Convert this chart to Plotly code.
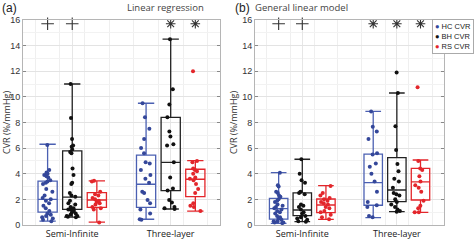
import plotly.graph_objects as go

CATS = ["Semi-Infinite", "Three-layer"]
SERIES = ["HC CVR", "BH CVR", "RS CVR"]
COLORS = ["#34479a", "#111111", "#e3262b"]
LINE_COLORS = ["#4b60b2", "#222222", "#e3262b"]

# ---------- (a) Linear regression: sample points ----------
lr_hc_semi = [6.25, 4.3, 4.1, 4.0, 3.9, 3.8, 3.7, 3.5, 3.4, 3.3, 3.2, 2.8, 2.6, 2.3, 2.1, 2.0,
              1.9, 1.7, 1.5, 1.3, 1.1, 0.9, 0.8, 0.7, 0.6, 0.5, 0.4, 0.3]
lr_hc_three = [9.5, 8.4, 7.5, 6.7, 6.0, 5.6, 4.9, 4.8, 4.3, 3.9, 3.6, 3.3, 2.6, 2.5, 1.95, 1.7,
               1.2, 0.9, 0.45, 0.4]
lr_bh_semi = [11.0, 8.35, 6.7, 6.2, 6.1, 5.9, 5.7, 5.6, 4.4, 3.9, 3.3, 3.2, 2.5, 2.3, 2.2, 1.9,
              1.7, 1.6, 1.4, 1.3, 1.2, 1.2, 1.1, 1.0, 0.9, 0.8, 0.7, 0.7, 0.65, 0.6]
lr_bh_three = [14.5, 10.6, 9.4, 8.4, 7.3, 6.9, 6.3, 6.2, 4.9, 3.7, 2.85, 2.7, 1.95, 1.75, 1.4,
               1.3, 1.25]
lr_rs_semi = [3.45, 3.4, 2.6, 2.4, 2.3, 2.1, 2.0, 1.9, 1.8, 1.7, 1.6, 1.4, 1.3, 1.2, 0.2]
lr_rs_three = [12.0, 5.0, 4.9, 4.4, 4.3, 4.2, 4.0, 3.7, 3.6, 3.5, 3.2, 2.8, 2.5, 1.7, 1.5, 1.4, 1.1]

# box statistics (per category: Semi-Infinite, Three-layer)
lr_q1 = {"HC CVR": [1.0, 1.38], "BH CVR": [1.22, 2.68], "RS CVR": [1.38, 2.21]}
lr_med = {"HC CVR": [2.0, 3.18], "BH CVR": [2.17, 4.89], "RS CVR": [1.95, 3.57]}
lr_q3 = {"HC CVR": [3.43, 5.45], "BH CVR": [5.78, 8.4], "RS CVR": [2.52, 4.35]}
lr_lo = {"HC CVR": [0.3, 0.45], "BH CVR": [0.62, 1.25], "RS CVR": [0.22, 1.09]}
lr_hi = {"HC CVR": [6.3, 9.5], "BH CVR": [11.0, 14.5], "RS CVR": [3.45, 5.02]}

# ---------- (b) General linear model: sample points ----------
glm_hc_semi = [4.08, 3.1, 3.0, 2.6, 2.5, 2.3, 2.2, 2.0, 1.9, 1.8, 1.6, 1.5, 1.4, 1.3, 1.2, 1.1,
               1.0, 0.9, 0.7, 0.6, 0.5, 0.4, 0.3, 0.3, 0.2, 0.2, 0.15]
glm_hc_three = [8.86, 7.67, 7.3, 6.7, 5.6, 5.5, 4.8, 4.55, 4.0, 3.4, 2.6, 1.8, 1.55, 1.4, 0.7, 0.6]
glm_bh_semi = [5.13, 4.0, 3.5, 3.3, 2.6, 2.5, 2.4, 1.6, 1.5, 1.4, 1.2, 1.0, 0.9, 0.7, 0.6, 0.5,
               0.4, 0.3, 0.26]
glm_bh_three = [11.9, 10.3, 7.7, 5.85, 4.75, 4.2, 3.6, 3.4, 2.9, 2.5, 2.4, 2.3, 2.0, 1.8, 1.6,
                1.4, 1.2, 1.1, 1.04]
glm_rs_semi = [3.05, 2.5, 2.3, 2.1, 2.0, 1.9, 1.8, 1.7, 1.6, 1.4, 1.3, 1.1, 1.0, 0.8, 0.6, 0.44]
glm_rs_three = [10.75, 5.0, 4.4, 4.3, 3.8, 3.4, 3.1, 2.9, 2.6, 1.9, 1.5, 1.3, 1.0, 1.0]

glm_q1 = {"HC CVR": [0.46, 1.54], "BH CVR": [0.73, 1.82], "RS CVR": [0.96, 1.95]}
glm_med = {"HC CVR": [1.28, 3.3], "BH CVR": [1.17, 2.73], "RS CVR": [1.56, 3.36]}
glm_q3 = {"HC CVR": [2.08, 5.53], "BH CVR": [2.5, 5.26], "RS CVR": [2.03, 4.42]}
glm_lo = {"HC CVR": [0.13, 0.57], "BH CVR": [0.26, 1.04], "RS CVR": [0.44, 0.99]}
glm_hi = {"HC CVR": [4.08, 8.86], "BH CVR": [5.13, 10.3], "RS CVR": [3.07, 5.07]}

# significance marks: (category, series) pairs
lr_plus = [("Semi-Infinite", "HC CVR"), ("Semi-Infinite", "BH CVR")]
lr_star = [("Three-layer", "BH CVR"), ("Three-layer", "RS CVR")]
glm_plus = [("Semi-Infinite", "HC CVR"), ("Semi-Infinite", "BH CVR")]
glm_star = [("Three-layer", "HC CVR"), ("Three-layer", "BH CVR"), ("Three-layer", "RS CVR")]
MARK_LEVEL = 15.7

Y_TICKS = [0, 2, 4, 6, 8, 10, 12, 14, 16]

panels = [
    dict(points={"HC CVR": [lr_hc_semi, lr_hc_three], "BH CVR": [lr_bh_semi, lr_bh_three],
                 "RS CVR": [lr_rs_semi, lr_rs_three]},
         q1=lr_q1, med=lr_med, q3=lr_q3, lo=lr_lo, hi=lr_hi, plus=lr_plus, star=lr_star),
    dict(points={"HC CVR": [glm_hc_semi, glm_hc_three], "BH CVR": [glm_bh_semi, glm_bh_three],
                 "RS CVR": [glm_rs_semi, glm_rs_three]},
         q1=glm_q1, med=glm_med, q3=glm_q3, lo=glm_lo, hi=glm_hi, plus=glm_plus, star=glm_star),
]


def pos(ci, si):
    # boxes at 1,2,3 (first category) and 5,6,7 (second category)
    return 1 + 4 * ci + si


fig = go.Figure()
for p_i, P in enumerate(panels):
    xa = "x" if p_i == 0 else "x2"
    ya = "y" if p_i == 0 else "y2"
    for si, s in enumerate(SERIES):
        fig.add_trace(go.Box(
            x=[pos(ci, si) for ci in range(len(CATS))],
            q1=P["q1"][s], median=P["med"][s], q3=P["q3"][s],
            lowerfence=P["lo"][s], upperfence=P["hi"][s],
            boxpoints=False, width=0.78, whiskerwidth=0.85,
            line=dict(color=LINE_COLORS[si], width=1.3),
            fillcolor="rgba(0,0,0,0)", showlegend=False, hoverinfo="skip",
            xaxis=xa, yaxis=ya))
    for si, s in enumerate(SERIES):
        xs, ys = [], []
        for ci in range(len(CATS)):
            vals = P["points"][s][ci]
            xs += [pos(ci, si)] * len(vals)
            ys += vals
        fig.add_trace(go.Box(
            x=xs, y=ys, boxpoints="all", jitter=0.75, pointpos=0, width=0.78,
            marker=dict(size=4, color=COLORS[si]),
            line=dict(width=0, color="rgba(0,0,0,0)"), fillcolor="rgba(0,0,0,0)",
            showlegend=False, xaxis=xa, yaxis=ya))
    for key, sym, sz in (("plus", "cross-thin-open", 9), ("star", "asterisk-open", 8)):
        mx = [pos(CATS.index(c), SERIES.index(s)) for c, s in P[key]]
        fig.add_trace(go.Scatter(
            x=mx, y=[MARK_LEVEL] * len(mx), mode="markers", cliponaxis=False,
            marker=dict(symbol=sym, size=sz, color="#333333",
                        line=dict(color="#333333", width=1.1)),
            showlegend=False, hoverinfo="skip", xaxis=xa, yaxis=ya))

axis_common = dict(showline=True, linecolor="#b5b5b5", linewidth=1, mirror="ticks",
                   zeroline=False)
xcommon = dict(axis_common, range=[0, 8], tickmode="array",
               tickvals=[pos(ci, 1) for ci in range(len(CATS))], ticktext=CATS,
               ticks="", showgrid=True, gridcolor="#e6e6e6",
               tickfont=dict(family="Open Sans", size=9, color="#222222"),
               minor=dict(tick0=0.5, dtick=1, showgrid=True, gridcolor="#efefef"))
ycommon = dict(axis_common, range=[0, 16], tickvals=Y_TICKS, ticks="inside", ticklen=3,
               tickcolor="#888888", showgrid=True, gridcolor="#e3e3e3",
               tickfont=dict(family="Liberation Sans", size=9, color="#333333"),
               minor=dict(dtick=1, showgrid=True, gridcolor="#f2f2f2"),
               title=dict(text="CVR (%/mmHg)", standoff=3,
                          font=dict(family="Open Sans", size=9, color="#333333")))

legend_text = "<br>".join(
    f"<span style='color:{COLORS[si]}'>●</span> {s}" for si, s in enumerate(SERIES))

fig.update_layout(
    template="none",
    width=474, height=240, margin=dict(l=0, r=0, t=0, b=0),
    paper_bgcolor="white", plot_bgcolor="white",
    xaxis=dict(xcommon, domain=[0.0485, 0.464], anchor="y"),
    yaxis=dict(ycommon, domain=[0.0625, 0.917], anchor="x"),
    xaxis2=dict(xcommon, domain=[0.538, 0.937], anchor="y2"),
    yaxis2=dict(ycommon, domain=[0.0625, 0.917], anchor="x2"),
    showlegend=False,
    annotations=[
        dict(text="Linear regression", x=0.264, y=1 - 8 / 240, xref="paper", yref="paper",
             yanchor="middle", showarrow=False,
             font=dict(family="Open Sans", size=9.5, color="#444444")),
        dict(text="General linear model", x=0.738, y=1 - 8 / 240, xref="paper", yref="paper",
             yanchor="middle", showarrow=False,
             font=dict(family="Open Sans", size=9.5, color="#444444")),
        dict(text="(a)", x=0.0, y=1 - 8 / 240, xref="paper", yref="paper", xanchor="left",
             yanchor="middle", showarrow=False,
             font=dict(family="Liberation Sans", size=12, color="#222222")),
        dict(text="(b)", x=0.492, y=1 - 8 / 240, xref="paper", yref="paper", xanchor="left",
             yanchor="middle", showarrow=False,
             font=dict(family="Liberation Sans", size=12, color="#222222")),
        dict(text=legend_text, x=0.911, y=1 - 19 / 240, xref="paper", yref="paper",
             xanchor="left", yanchor="top", align="left", showarrow=False,
             bgcolor="white", bordercolor="#aaaaaa", borderwidth=1, borderpad=2,
             font=dict(family="Liberation Sans", size=7.5, color="#222222")),
    ],
)

fig.write_html("out.html")
